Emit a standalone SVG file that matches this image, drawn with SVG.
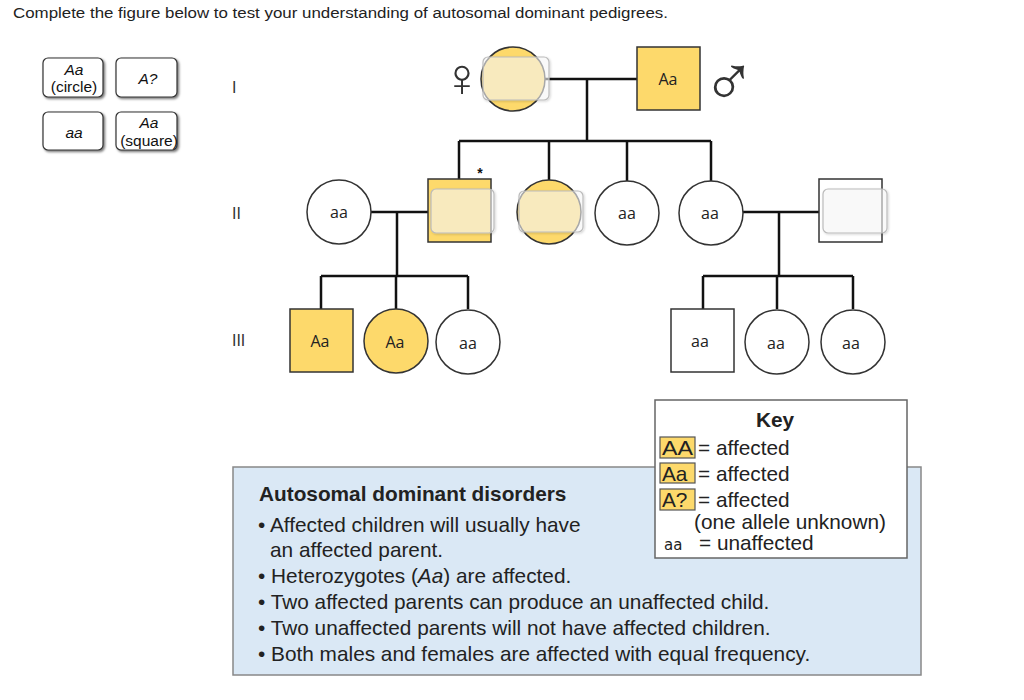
<svg xmlns="http://www.w3.org/2000/svg" width="1024" height="700" viewBox="0 0 1024 700">
<defs>
<filter id="sh" x="-20%" y="-20%" width="150%" height="150%"><feDropShadow dx="1.5" dy="1.5" stdDeviation="1" flood-color="#000" flood-opacity="0.55"/></filter>
<filter id="sh2" x="-20%" y="-20%" width="150%" height="150%"><feDropShadow dx="1" dy="1" stdDeviation="1" flood-color="#000" flood-opacity="0.2"/></filter>
</defs>
<style>
.t{font-family:"Liberation Sans",Arial,sans-serif;fill:#222}
.btn{fill:#fff;stroke:#333;stroke-width:1.2}
.bt{font-family:"Liberation Sans",Arial,sans-serif;font-size:15.5px;fill:#111;text-anchor:middle}
.aff{fill:#fdd96b;stroke:#333;stroke-width:1.5}
.un{fill:#fff;stroke:#333;stroke-width:1.5}
.g{font-family:"Open Sans","Noto Sans",sans-serif;font-size:16px;fill:#222;text-anchor:middle}
.ln{stroke:#111;stroke-width:2.5;fill:none}
.drop{fill:#fff;fill-opacity:0.55;stroke:#bbb;stroke-width:1.2}
.rn{font-family:"DejaVu Sans",sans-serif;font-size:15px;fill:#333}
.kt{font-family:"Liberation Sans",Arial,sans-serif;font-size:20.8px;fill:#222}
.kb{fill:#fdd96b;stroke:#555;stroke-width:1.2}
.sym{font-family:"Liberation Sans",Arial,sans-serif;fill:#333;text-anchor:middle}
</style>
<rect width="1024" height="700" fill="#fff"/>
<text class="t" x="13" y="18" font-size="15.5" fill="#333" textLength="655" lengthAdjust="spacingAndGlyphs">Complete the figure below to test your understanding of autosomal dominant pedigrees.</text>

<g id="btn-aa-circle"><rect class="btn" x="43" y="58" width="60" height="39" rx="5" filter="url(#sh)"/><text class="bt" x="74" y="75" font-style="italic">Aa</text><text class="bt" x="74" y="92">(circle)</text></g>
<g id="btn-aq"><rect class="btn" x="116" y="58" width="61" height="39" rx="5" filter="url(#sh)"/><text class="bt" x="148" y="84" font-style="italic" font-size="17">A?</text></g>
<g id="btn-aa"><rect class="btn" x="43" y="112" width="60" height="38" rx="5" filter="url(#sh)"/><text class="bt" x="74" y="138" font-style="italic" font-size="17">aa</text></g>
<g id="btn-aa-square"><rect class="btn" x="116" y="112" width="61" height="38" rx="5" filter="url(#sh)"/><text class="bt" x="149" y="128" font-style="italic">Aa</text><text class="bt" x="149" y="146">(square)</text></g>

<text class="rn" x="232" y="93">I</text>
<text class="rn" x="232" y="219">II</text>
<text class="rn" x="232" y="346">III</text>

<g id="connectors">
<path class="ln" d="M545 79H637M587 79V141M459 141H711M459 141V179M549 141V180M627 141V181M711 141V181"/>
<path class="ln" d="M371 212H428M397 212V276M321 276H468M321 276V309M396 276V309M468 276V309"/>
<path class="ln" d="M742 212H819M779 212V276M703 276H853M703 276V309M777 276V309M853 276V309"/>
</g>

<g id="sym-female"><text class="sym" x="462" y="96" font-size="54">♀</text></g>
<g id="sym-male"><text class="sym" x="729" y="106" font-size="72">♂</text></g>

<g id="I-1"><circle class="aff" cx="513" cy="79" r="32"/><rect class="drop" x="483" y="57" width="66" height="43" rx="5" filter="url(#sh2)"/></g>
<g id="I-2"><rect class="aff" x="637" y="47" width="63" height="63"/><text class="g" x="668" y="85">Aa</text></g>

<g id="II-1"><circle class="un" cx="339" cy="212" r="32"/><text class="g" x="339" y="218">aa</text></g>
<g id="II-2"><rect class="aff" x="428" y="179" width="63" height="63"/><rect class="drop" x="431" y="189" width="63" height="44" rx="5" filter="url(#sh2)"/><text x="480" y="178" font-family="Liberation Sans,Arial,sans-serif" font-size="14" font-weight="bold" fill="#111" text-anchor="middle">*</text></g>
<g id="II-3"><circle class="aff" cx="549" cy="212" r="32"/><rect class="drop" x="519" y="191" width="64" height="41" rx="5" filter="url(#sh2)"/></g>
<g id="II-4"><circle class="un" cx="627" cy="213" r="32"/><text class="g" x="627" y="219">aa</text></g>
<g id="II-5"><circle class="un" cx="711" cy="213" r="32"/><text class="g" x="710" y="219">aa</text></g>
<g id="II-6"><rect class="un" x="819" y="179" width="63" height="63"/><rect class="drop" x="823" y="189" width="64" height="44" rx="5" filter="url(#sh2)"/></g>

<g id="III-1"><rect class="aff" x="290" y="309" width="63" height="63"/><text class="g" x="320" y="347">Aa</text></g>
<g id="III-2"><circle class="aff" cx="396" cy="341" r="32"/><text class="g" x="395" y="348">Aa</text></g>
<g id="III-3"><circle class="un" cx="468" cy="342" r="32"/><text class="g" x="468" y="349">aa</text></g>
<g id="III-4"><rect class="un" x="671" y="309" width="63" height="63"/><text class="g" x="700" y="347">aa</text></g>
<g id="III-5"><circle class="un" cx="777" cy="342" r="32"/><text class="g" x="776" y="349">aa</text></g>
<g id="III-6"><circle class="un" cx="853" cy="342" r="32"/><text class="g" x="851" y="349">aa</text></g>

<g id="info">
<rect x="233" y="467" width="688" height="208" fill="#dae8f5" stroke="#888" stroke-width="1.5"/>
<text class="kt" x="259" y="501" font-weight="bold" font-size="20.2">Autosomal dominant disorders</text>
<text class="kt" x="258" y="532">• Affected children will usually have</text>
<text class="kt" x="270" y="557">an affected parent.</text>
<text class="kt" x="258" y="583">• Heterozygotes (<tspan font-style="italic">Aa</tspan>) are affected.</text>
<text class="kt" x="258" y="609">• Two affected parents can produce an unaffected child.</text>
<text class="kt" x="258" y="635">• Two unaffected parents will not have affected children.</text>
<text class="kt" x="258" y="661">• Both males and females are affected with equal frequency.</text>
</g>

<g id="key">
<rect x="655" y="400" width="252" height="158" fill="#fff" stroke="#666" stroke-width="1.5"/>
<text class="kt" x="775" y="427" font-weight="bold" text-anchor="middle" font-size="21.5">Key</text>
<rect class="kb" x="660" y="437" width="35" height="21"/><text class="kt" x="662" y="455" textLength="31" lengthAdjust="spacingAndGlyphs">AA</text><text class="kt" x="698" y="455">= affected</text>
<rect class="kb" x="660" y="463" width="35" height="20"/><text class="kt" x="662" y="481">Aa</text><text class="kt" x="698" y="481">= affected</text>
<rect class="kb" x="660" y="489" width="35" height="21"/><text class="kt" x="662" y="507">A?</text><text class="kt" x="698" y="507">= affected</text>
<text class="kt" x="694" y="529">(one allele unknown)</text>
<text x="664" y="550" font-family="DejaVu Sans,sans-serif" font-size="15" fill="#222">aa</text><text class="kt" x="699" y="550">= unaffected</text>
</g>
</svg>
